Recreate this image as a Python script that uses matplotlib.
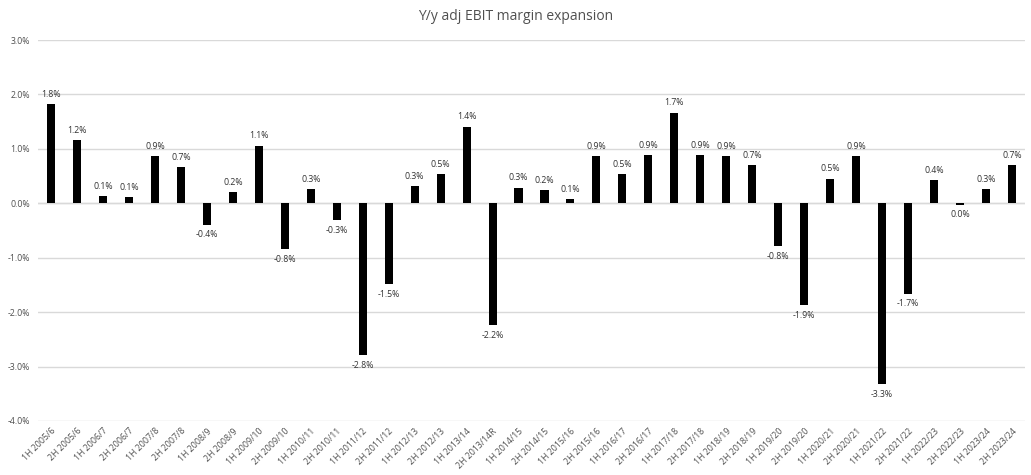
import matplotlib
matplotlib.use("Agg")
import matplotlib.pyplot as plt
from matplotlib.ticker import FuncFormatter, MultipleLocator

categories = ["1H 2005/6", "2H 2005/6", "1H 2006/7", "2H 2006/7", "1H 2007/8", "2H 2007/8",
              "1H 2008/9", "2H 2008/9", "1H 2009/10", "2H 2009/10", "1H 2010/11", "2H 2010/11",
              "1H 2011/12", "2H 2011/12", "1H 2012/13", "2H 2012/13", "1H 2013/14", "2H 2013/14R",
              "1H 2014/15", "2H 2014/15", "1H 2015/16", "2H 2015/16", "1H 2016/17", "2H 2016/17",
              "1H 2017/18", "2H 2017/18", "1H 2018/19", "2H 2018/19", "1H 2019/20", "2H 2019/20",
              "1H 2020/21", "2H 2020/21", "1H 2021/22", "2H 2021/22", "1H 2022/23", "2H 2022/23",
              "1H 2023/24", "2H 2023/24"]
values = [1.82, 1.16, 0.13, 0.11, 0.86, 0.66, -0.39, 0.20, 1.06, -0.84, 0.26, -0.31,
          -2.79, -1.49, 0.31, 0.53, 1.41, -2.24, 0.29, 0.24, 0.07, 0.86, 0.53, 0.88,
          1.66, 0.88, 0.86, 0.70, -0.79, -1.87, 0.45, 0.86, -3.32, -1.66, 0.42, -0.03,
          0.26, 0.70]

plt.rcParams['font.family'] = ['Open Sans', 'DejaVu Sans']

fig = plt.figure(figsize=(10.31, 4.75), dpi=100)
ax = fig.add_axes([38/1031, 1-421/475, (1025-38)/1031, (421-40)/475])

x = list(range(len(categories)))
ax.bar(x, values, width=0.31, color='black', zorder=3)

for xi, v in zip(x, values):
    lab = f"{v:.1f}%"
    if lab == "-0.0%":
        lab = "0.0%"
    if v >= 0:
        ax.annotate(lab, (xi, v), xytext=(0, 4), textcoords='offset points',
                    ha='center', va='bottom', fontsize=6.3, color='#333333')
    else:
        ax.annotate(lab, (xi, v), xytext=(0, -4), textcoords='offset points',
                    ha='center', va='top', fontsize=6.3, color='#333333')

ax.set_xlim(-0.5, len(categories) - 0.5)
ax.set_ylim(-4.0, 3.0)
ax.yaxis.set_major_locator(MultipleLocator(1.0))
ax.yaxis.set_major_formatter(FuncFormatter(lambda v, p: f"{v:.1f}%"))
ax.grid(axis='y', color='#d9d9d9', linewidth=1.0, zorder=0)
ax.axhline(0, color='#d9d9d9', linewidth=1.0, zorder=1)

ax.set_xticks(x)
ax.set_xticklabels(categories, rotation=45, ha='right', va='top', rotation_mode='anchor',
                   fontsize=6.3, color='#505050')
ax.tick_params(axis='x', length=0, pad=4)
ax.tick_params(axis='y', length=0, pad=6, labelsize=6.3, labelcolor='#505050')
for s in ax.spines.values():
    s.set_visible(False)

fig.text(0.5, 1-16/475, "Y/y adj EBIT margin expansion", ha='center', va='center',
         fontsize=10, color='#505050')

fig.savefig("out.png", dpi=100)
